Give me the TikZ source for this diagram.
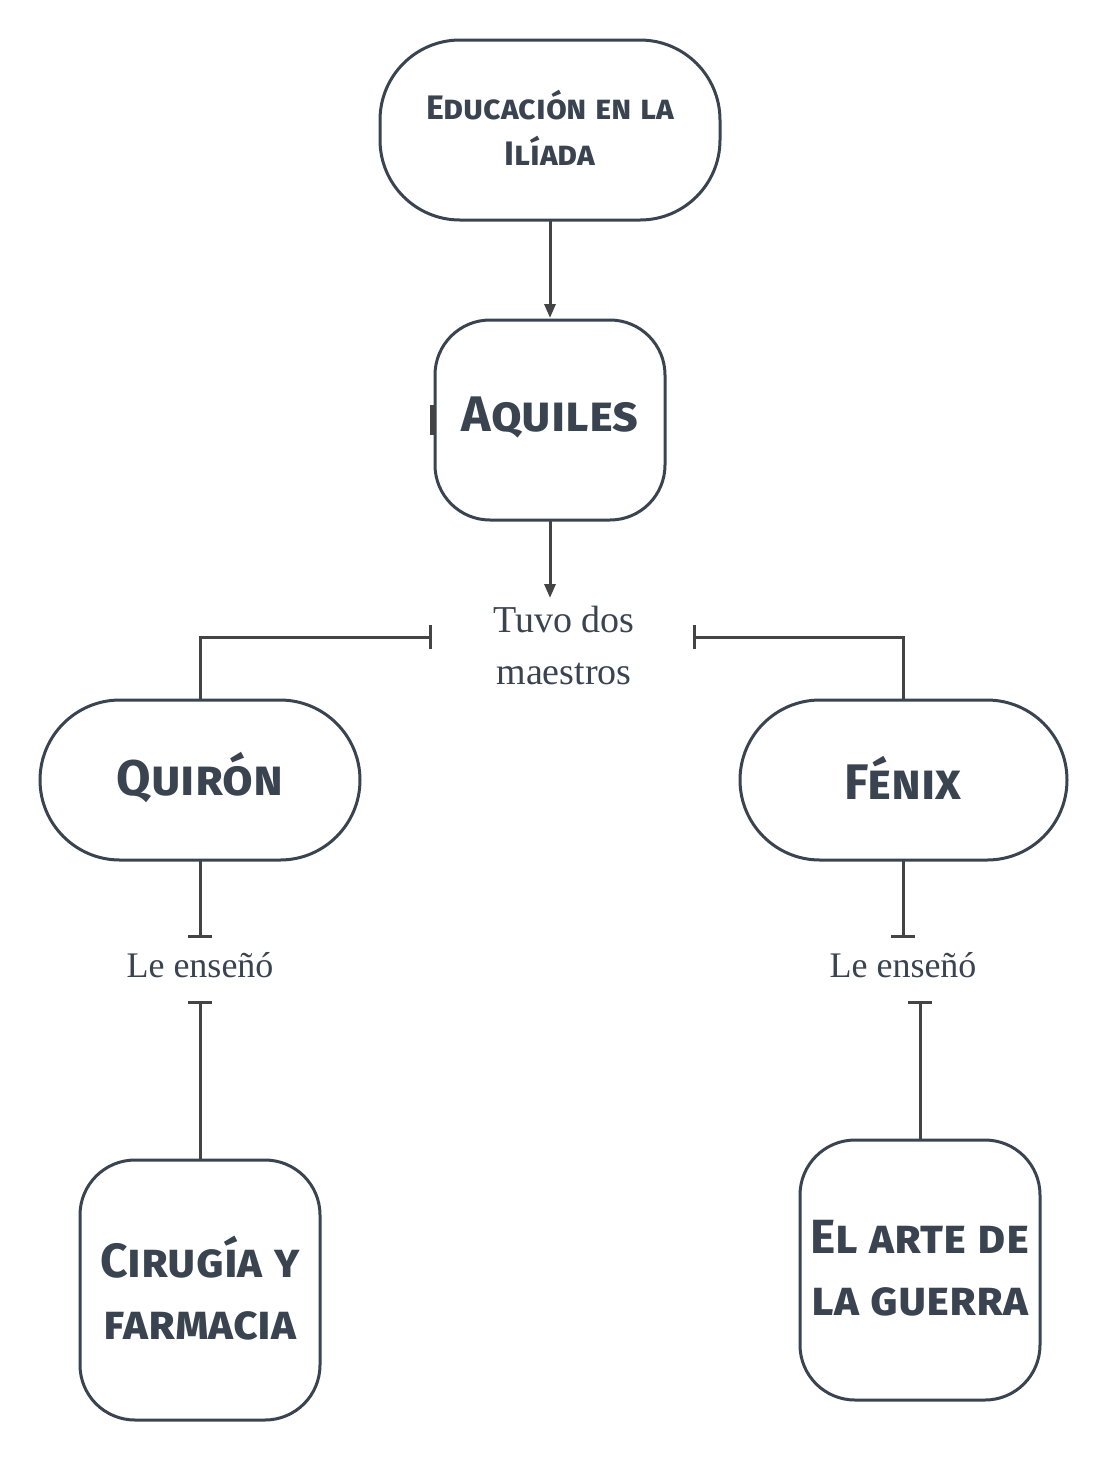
\documentclass[tikz,border=0pt]{standalone}
\usepackage{fontspec}
\setmainfont{Liberation Serif}
\newfontfamily\capsf{Fira Sans}[Letters=SmallCaps]
\usetikzlibrary{arrows.meta}
\definecolor{ink}{HTML}{3A4350}
\definecolor{ln}{HTML}{444444}
\begin{document}
\begin{tikzpicture}[x=1pt,y=-1pt,
  box/.style={draw=ink,line width=3pt,fill=white,rounded corners=#1},
  ttl/.style={text=ink,align=center},
  lab/.style={text=ink,align=center,font=\fontsize{36}{50}\selectfont},
  con/.style={draw=ln,line width=3pt},
  arr/.style={con,-{Triangle[length=14pt,width=11pt]}},
  tee/.style={con,-{Bar[width=24pt,line width=3pt]}}]
\useasboundingbox (0,0) rectangle (1108,1460);
\draw[box=80] (380,40) rectangle (720,220);
\node[ttl,font=\capsf\bfseries\fontsize{34}{46}\selectfont] (t) at (550,128) {Educación en la\\Ilíada};
\draw[box=55] (435,320) rectangle (665,520);
\node[ttl,font=\capsf\bfseries\fontsize{50}{60}\selectfont] (a) at (550,418) {Aquiles};
\draw[box=80] (40,700) rectangle (360,860);
\node[ttl,font=\capsf\bfseries\fontsize{50}{60}\selectfont] (q) at (200,778) {Quirón};
\draw[box=80] (740,700) rectangle (1067,860);
\node[ttl,font=\capsf\bfseries\fontsize{50}{60}\selectfont] (f) at (903,778) {Fénix};
\draw[box=55] (80,1160) rectangle (320,1420);
\node[ttl,font=\capsf\bfseries\fontsize{48}{62}\selectfont] (c) at (200,1288) {Cirugía y\\farmacia};
\draw[box=55] (800,1140) rectangle (1040,1400);
\node[ttl,font=\capsf\bfseries\fontsize{48}{62}\selectfont] (g) at (920,1268) {El arte de\\la guerra};
\node[lab,font=\fontsize{38}{52}\selectfont] (m) at (564,645) {Tuvo dos\\maestros};
\node[lab] (l1) at (200,965) {Le enseñó};
\node[lab] (l2) at (903,965) {Le enseñó};
\coordinate (tb) at (550,220); \coordinate (ab) at (550,520);
\coordinate (at) at (550,318); \coordinate (mt) at (550,598);
\draw[arr] (tb) -- (at);
\draw[arr] (ab) -- (mt);
\coordinate (mL) at (432,637); \coordinate (mR) at (693,637);
\draw[tee] (200,700) |- (mL);
\draw[tee] (903,700) |- (mR);
\draw[tee] (200,860) -- (200,938);
\draw[tee] (903,860) -- (903,938);
\draw[tee] (200,1160) -- (200,1001);
\draw[tee] (920,1140) -- (920,1001);
\draw[ln,line width=5pt] (432,405) -- (432,435);
\end{tikzpicture}
\end{document}
